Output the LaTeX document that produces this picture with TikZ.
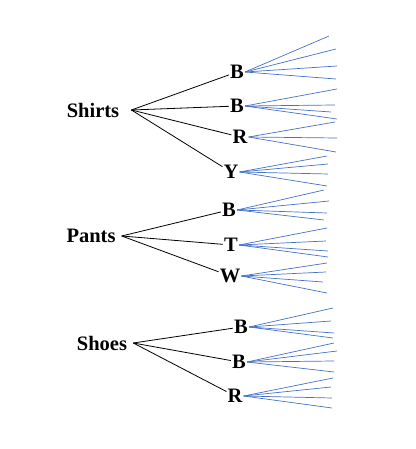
\documentclass[tikz,border=0pt]{standalone}
\usepackage{fontspec}
\setmainfont{Liberation Serif}
\usetikzlibrary{positioning}
\definecolor{leafblue}{HTML}{4472C4}
\tikzset{
  cat/.style    = {font=\fontsize{20.5}{24}\selectfont\bfseries, inner sep=0pt},
  opt/.style    = {font=\fontsize{20.5}{24}\selectfont\bfseries, inner sep=1pt},
  branch/.style = {draw=black, line width=0.8pt},
  leaf/.style   = {draw=leafblue, line width=0.7pt},
}
\begin{document}
\begin{tikzpicture}[x=1pt, y=-1pt]
    \useasboundingbox (0,0) rectangle (415,449);

    % categories
    \node[cat] (shirts) at (93,110)  {Shirts};
    \node[cat] (pants)  at (91,236)  {Pants};
    \node[cat] (shoes)  at (102,343) {Shoes};

    % options
    \node[opt] (shB1) at (237,72)  {B};
    \node[opt] (shB2) at (237,106) {B};
    \node[opt] (shR)  at (240,137) {R};
    \node[opt] (shY)  at (231,172) {Y};

    \node[opt] (paB)  at (229,210) {B};
    \node[opt] (paT)  at (231,245) {T};
    \node[opt] (paW)  at (230,276) {W};

    \node[opt] (soB1) at (241,327) {B};
    \node[opt] (soB2) at (239,362) {B};
    \node[opt] (soR)  at (235,396) {R};

    % branches
    \foreach \c in {shB1,shB2,shR,shY}
      \draw[branch] ([xshift=12pt]shirts.east) -- (\c);
    \foreach \c in {paB,paT,paW}
      \draw[branch] ([xshift=6pt]pants.east) -- (\c);
    \foreach \c in {soB1,soB2,soR}
      \draw[branch] ([xshift=6pt]shoes.east) -- (\c);

    % leaves
    \foreach \n/\ends in {
        shB1/{329/36,336/49,337/66,336/79},
        shB2/{337/89,335/105,331/112,337/119},
        shR/{335/122,337/138,336/152},
        shY/{327/156,328/164,328/174,327/186},
        paB/{324/190,329/201,327/213,324/220},
        paT/{327/228,326/241,328/251,328/257},
        paW/{327/263,326/272,323/282,327/293},
        soB1/{333/308,331/321,334/333,333/338},
        soB2/{334/343,337/351,334/361,334/372},
        soR/{333/378,331/387,332/398,332/408}}
      \foreach \x/\y [count=\i] in \ends {
        \coordinate (\n-\i) at (\x,\y);
        \draw[leaf] (\n.east) -- (\n-\i);
      }
\end{tikzpicture}
\end{document}
